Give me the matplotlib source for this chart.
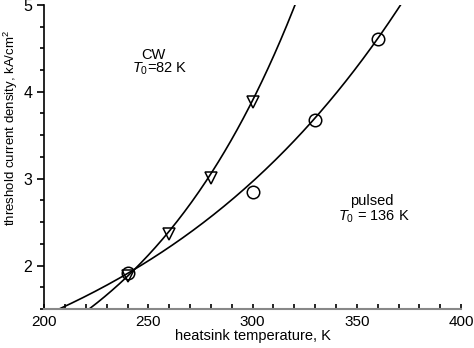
import numpy as np
import matplotlib
matplotlib.use("Agg")
import matplotlib.pyplot as plt

plt.rcParams["font.family"] = ["Liberation Sans", "DejaVu Sans"]
plt.rcParams["mathtext.fontset"] = "custom"
plt.rcParams["mathtext.it"] = "Liberation Sans:italic"
plt.rcParams["mathtext.rm"] = "Liberation Sans"

# measured points
T_cw = [240, 260, 280, 300]
J_cw = [1.88, 2.36, 3.01, 3.88]
T_pulsed = [240, 300, 330, 360]
J_pulsed = [1.91, 2.85, 3.68, 4.61]

# characteristic temperatures of the exponential fits J = J1 * exp((T - T1) / T0)
T0_cw = 82
T0_pulsed = 136
T1_cw, T1_pulsed = 221.6, 207.2
J1 = 1.5

fig = plt.figure(figsize=(4.74, 3.48), dpi=100)
ax = fig.add_axes([0.093, 0.112, 0.88, 0.874])

T_fit_cw = np.linspace(T1_cw, T1_cw + T0_cw * np.log(5 / J1), 200)
T_fit_p = np.linspace(T1_pulsed, T1_pulsed + T0_pulsed * np.log(5 / J1), 200)
ax.plot(T_fit_cw, J1 * np.exp((T_fit_cw - T1_cw) / T0_cw), color="black", lw=1.2)
ax.plot(T_fit_p, J1 * np.exp((T_fit_p - T1_pulsed) / T0_pulsed), color="black", lw=1.2)

ax.plot(T_cw, J_cw, linestyle="none", marker="v", ms=9, mfc="none",
        mec="black", mew=1.1)
ax.plot(T_pulsed, J_pulsed, linestyle="none", marker="o", ms=9, mfc="none",
        mec="black", mew=1.1)

ax.text(252.5, 4.42, "CW", ha="center", va="center", fontsize=10.5)
ax.text(255.5, 4.26, r"$T_0$=%d K" % T0_cw, ha="center", va="center", fontsize=10.5)
ax.text(357, 2.74, "pulsed", ha="center", va="center", fontsize=10.5)
ax.text(358, 2.56, r"$T_0$ = %d K" % T0_pulsed, ha="center", va="center", fontsize=10.5)

ax.set_xlim(200, 400)
ax.set_ylim(1.5, 5)
ax.set_xticks([200, 250, 300, 350, 400])
ax.set_xticks(np.arange(200, 401, 10), minor=True)
ax.set_yticks([2, 3, 4, 5])
ax.set_yticks(np.arange(1.5, 5.01, 0.25), minor=True)

ax.spines["top"].set_visible(False)
ax.spines["right"].set_visible(False)
ax.spines["bottom"].set_color("#888888")
ax.spines["bottom"].set_linewidth(1.5)
ax.spines["left"].set_linewidth(1.2)

ax.tick_params(axis="x", which="both", direction="in", length=3.5, width=1.2,
               labelsize=11, pad=4.5, colors="black")
ax.tick_params(axis="y", which="major", direction="out", length=5, width=1.2,
               labelsize=11.5)
ax.tick_params(axis="y", which="minor", direction="out", length=3, width=1.2)

ax.set_xlabel("heatsink temperature, K", fontsize=10.5, labelpad=-0.5)
ax.set_ylabel("threshold current density, kA/cm$^2$", fontsize=9.5)
ax.yaxis.set_label_coords(-0.058, 0.595)

fig.savefig("out.png", dpi=100)
plt.close()
